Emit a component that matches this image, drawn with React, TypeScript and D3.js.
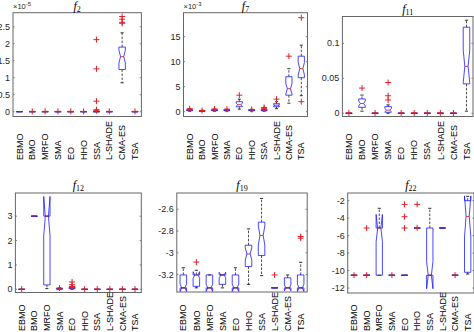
import React from 'react';
import * as d3 from 'd3';

const categories = ['EBMO', 'BMO', 'MRFO', 'SMA', 'EO', 'HHO', 'SSA', 'L-SHADE', 'CMA-ES', 'TSA'];

// each row: [whiskerLow, q1, median, q3, whiskerHigh]
const f2Stats: number[][] = [
  [0, 0, 0, 0, 0], [0, 0, 0, 0, 0], [0, 0, 0, 0, 0], [0, 0, 0, 0, 0], [0, 0, 0, 0, 0],
  [0, 0, 0, 0, 0], [0, 0, 0, 0, 0], [0, 0, 0, 0, 0], [0.85, 1.24, 1.62, 1.9, 2.32], [0, 0, 0, 0, 0],
];
const f2Outliers: number[][] = [
  [], [0.01], [0.01], [0.01], [0.01], [0.01], [2.12, 1.26, 0.31, 0.06, 0.03], [0.01], [2.8, 2.72, 2.63, 2.6], [0.01],
];

const f7Stats: number[][] = [
  [0.1, 0.2, 0.3, 0.4, 0.55], [0.05, 0.1, 0.15, 0.2, 0.3], [0.1, 0.2, 0.3, 0.4, 0.5], [0.1, 0.2, 0.3, 0.4, 0.5],
  [0.5, 1.0, 1.4, 2.0, 2.5], [0.1, 0.2, 0.3, 0.4, 0.5], [0.1, 0.2, 0.3, 0.4, 0.5], [0.6, 1.0, 1.3, 1.6, 2.0],
  [1.7, 3.3, 4.6, 7.0, 8.6], [3.2, 6.8, 8.6, 11.1, 13.3],
];
const f7Outliers: number[][] = [
  [0.6], [0.25], [0.55], [0.5], [3.3], [0.45], [0.85, 0.6], [2.5], [11.1], [18.8, 2.0],
];

const f11Stats: number[][] = [
  [0, 0, 0, 0, 0], [0.003, 0.0085, 0.014, 0.0205, 0.026], [0, 0, 0, 0, 0], [0, 0.0015, 0.0045, 0.0095, 0.012],
  [0, 0, 0, 0, 0], [0, 0, 0, 0, 0], [0, 0, 0, 0, 0], [0, 0, 0, 0, 0], [0, 0, 0, 0, 0], [0.003, 0.042, 0.067, 0.123, 0.133],
];
const f11Outliers: number[][] = [
  [0.0005], [0.036], [0.0005], [0.044, 0.025, 0.019], [0.0005], [0.0005], [0.0005], [0.0005], [0.0005], [],
];

const f12Stats: number[][] = [
  [0, 0, 0, 0, 0], [3, 3, 3, 3, 3], [0.03, 0.18, 3.0, 3.0, 3.0], [0, 0.01, 0.02, 0.04, 0.06],
  [0, 0.03, 0.06, 0.09, 0.12], [0, 0, 0, 0, 0], [0, 0, 0, 0, 0], [0, 0, 0, 0, 0], [0, 0, 0, 0, 0], [0, 0, 0, 0, 0],
];
const f12Outliers: number[][] = [
  [0.01], [], [], [0.05], [0.3, 0.19, 0.12, 0.1], [0.01], [0.01], [0.01], [0.01], [0.01],
];

const f19Stats: number[][] = [
  [-3.322, -3.322, -3.322, -3.2032, -3.137], [-3.322, -3.308, -3.2032, -3.2032, -3.16],
  [-3.322, -3.322, -3.322, -3.2032, -3.2032], [-3.322, -3.29, -3.2032, -3.2032, -3.2032],
  [-3.322, -3.322, -3.322, -3.2032, -3.137], [-3.29, -3.126, -3.01, -2.93, -2.78],
  [-3.21, -3.025, -2.84, -2.718, -2.5], [-3.322, -3.322, -3.322, -3.322, -3.322],
  [-3.322, -3.322, -3.322, -3.23, -3.2032], [-3.322, -3.322, -3.322, -3.2032, -3.087],
];
const f19Outliers: number[][] = [
  [], [-3.085], [], [], [], [], [], [-3.2032], [], [-2.85, -2.865],
];

const f22Stats: number[][] = [
  [-10.5364, -10.5364, -10.5364, -10.5364, -10.5364], [-10.5364, -10.5364, -10.5364, -10.5364, -10.5364],
  [-10.5364, -10.5364, -5.1285, -5.1285, -2.87], [-10.5364, -10.5364, -10.5364, -10.5364, -10.5364],
  [-10.5364, -10.5364, -10.5364, -10.5364, -10.5364], [-5.1285, -5.1285, -5.1285, -5.1285, -5.1285],
  [-10.5364, -10.5364, -10.5364, -5.1285, -2.87], [-5.1285, -5.1285, -5.1285, -5.1285, -5.1285],
  [-10.5364, -10.5364, -10.5364, -10.5364, -10.5364], [-10.4, -10.2, -3.8, -2.0, -1.5],
];
const f22Outliers: number[][] = [
  [-10.53], [-5.1285, -10.53], [], [-10.53], [-2.4217, -3.8354, -5.1285], [-2.4217, -5.1], [], [], [-10.53], [],
];

const ticksF2 = [0, 0.5, 1, 1.5, 2, 2.5];
const ticksF7 = [0, 5, 10, 15];
const ticksF11 = [0, 0.05, 0.1];
const ticksF12 = [0, 1, 2, 3];
const ticksF19 = [-3.2, -3, -2.8, -2.6];
const ticksF22 = [-12, -10, -8, -6, -4, -2];

const N_RUNS = 30;

type Frame = { l: number; t: number; r: number; b: number };
type Panel = {
  id: string; fn: string; stats: number[][]; outliers: number[][]; yDomain: [number, number];
  ticks: number[]; exponent?: string; frame: Frame; titleY: number; labelY: number;
};

const panels: Panel[] = [
  { id: 'p2', fn: '2', stats: f2Stats, outliers: f2Outliers, yDomain: [-0.141, 2.912], ticks: ticksF2, exponent: '-5',
    frame: { l: 13, t: 12.7, r: 141.4, b: 116.5 }, titleY: 10, labelY: 160 },
  { id: 'p7', fn: '7', stats: f7Stats, outliers: f7Outliers, yDomain: [-0.96, 19.8], ticks: ticksF7, exponent: '-3',
    frame: { l: 183.5, t: 12.7, r: 307.5, b: 116.5 }, titleY: 10, labelY: 160 },
  { id: 'p11', fn: '11', stats: f11Stats, outliers: f11Outliers, yDomain: [-0.0046, 0.1383], ticks: ticksF11,
    frame: { l: 342.4, t: 16.5, r: 473, b: 116.5 }, titleY: 12.5, labelY: 160 },
  { id: 'p12', fn: '12', stats: f12Stats, outliers: f12Outliers, yDomain: [-0.13, 3.95], ticks: ticksF12,
    frame: { l: 15.4, t: 193, r: 141.3, b: 292.5 }, titleY: 189, labelY: 331 },
  { id: 'p19', fn: '19', stats: f19Stats, outliers: f19Outliers, yDomain: [-3.36, -2.45], ticks: ticksF19,
    frame: { l: 176.8, t: 193, r: 307.2, b: 292 }, titleY: 189, labelY: 331 },
  { id: 'p22', fn: '22', stats: f22Stats, outliers: f22Outliers, yDomain: [-12.57, -1.12], ticks: ticksF22,
    frame: { l: 347.7, t: 193, r: 474, b: 293 }, titleY: 189, labelY: 331 },
];

const SANS = 'Liberation Sans, Arial, Helvetica, sans-serif';
const SERIF = 'Liberation Serif, Times New Roman, serif';

function BoxPanel({ p }: { p: Panel }) {
  const { l, t, r, b } = p.frame;
  const x = d3.scaleBand<string>().domain(categories).range([l, r]).padding(0);
  const y = d3.scaleLinear().domain(p.yDomain).range([b, t]);
  const bw = x.bandwidth();
  const w = bw * 0.5;
  const cx = (c: string) => (x(c) as number) + bw / 2;
  const tickLen = 1.6;
  return (
    <g>
      <defs>
        <clipPath id={`clip-${p.id}`}>
          <rect x={l} y={t} width={r - l} height={b - t} />
        </clipPath>
      </defs>
      <rect x={l} y={t} width={r - l} height={b - t} fill="#fff" />
      <g clipPath={`url(#clip-${p.id})`}>
        {categories.map((c, i) => {
          const [wlo, q1, med, q3, whi] = p.stats[i];
          const notch = (1.57 * (q3 - q1)) / Math.sqrt(N_RUNS);
          const nLo = med - notch;
          const nHi = med + notch;
          const xc = cx(c);
          const xl = xc - w / 2;
          const xr = xc + w / 2;
          const inset = w / 4;
          const pts: [number, number][] = [
            [xl, y(q1)], [xl, y(nLo)], [xl + inset, y(med)], [xl, y(nHi)], [xl, y(q3)],
            [xr, y(q3)], [xr, y(nHi)], [xr - inset, y(med)], [xr, y(nLo)], [xr, y(q1)],
          ];
          const line = d3.line();
          const capHalf = w / 4;
          return (
            <g key={c}>
              <line x1={xc} x2={xc} y1={y(q3)} y2={y(whi)} stroke="#000" strokeWidth={0.7} strokeDasharray="2.5,1.5" />
              <line x1={xc} x2={xc} y1={y(q1)} y2={y(wlo)} stroke="#000" strokeWidth={0.7} strokeDasharray="2.5,1.5" />
              <line x1={xc - capHalf} x2={xc + capHalf} y1={y(whi)} y2={y(whi)} stroke="#000" strokeWidth={0.8} />
              <line x1={xc - capHalf} x2={xc + capHalf} y1={y(wlo)} y2={y(wlo)} stroke="#000" strokeWidth={0.8} />
              <path d={(line(pts) as string) + 'Z'} fill="none" stroke="#1a1aff" strokeWidth={0.8} />
              <line x1={xl + inset} x2={xr - inset} y1={y(med)} y2={y(med)} stroke="#e0202a" strokeWidth={0.9} />
              {p.outliers[i].map((v, k) => {
                const oy = y(v);
                const s = 3;
                return (
                  <path key={k} d={`M${xc - s},${oy}H${xc + s}M${xc},${oy - s}V${oy + s}`} stroke="#e0202a" strokeWidth={1} fill="none" />
                );
              })}
            </g>
          );
        })}
      </g>
      <rect x={l} y={t} width={r - l} height={b - t} fill="none" stroke="#666" strokeWidth={1} />
      {p.ticks.map((v) => (
        <g key={v}>
          <line x1={l} x2={l + tickLen} y1={y(v)} y2={y(v)} stroke="#666" strokeWidth={0.8} />
          <line x1={r} x2={r - tickLen} y1={y(v)} y2={y(v)} stroke="#666" strokeWidth={0.8} />
          <text x={l - 3} y={y(v)} dy="0.35em" textAnchor="end" fontFamily={SANS} fontSize={9} fill="#262626">
            {String(v)}
          </text>
        </g>
      ))}
      {p.exponent && (
        <text x={l} y={t - 4} fontFamily={SANS} fontSize={7.5} fill="#262626">
          ×10<tspan dy={-3} fontSize={6}>{p.exponent}</tspan>
        </text>
      )}
      <text x={(l + r) / 2} y={p.titleY} textAnchor="middle" fontFamily={SERIF} fontSize={12} fill="#000">
        <tspan fontStyle="italic">f</tspan>
        <tspan fontSize={8} dy={2}>{p.fn}</tspan>
      </text>
      {categories.map((c) => (
        <text key={c} transform={`translate(${cx(c)},${p.labelY}) rotate(-90)`} dy="0.35em" textAnchor="start"
          fontFamily={SANS} fontSize={9} fill="#000">
          {c}
        </text>
      ))}
    </g>
  );
}

export default function App() {
  return (
    <svg width={474} height={332} style={{ position: 'absolute', left: 0, top: 0, background: '#fff' }}>
      <rect width={474} height={332} fill="#fff" />
      {panels.map((p) => (
        <BoxPanel key={p.id} p={p} />
      ))}
    </svg>
  );
}
